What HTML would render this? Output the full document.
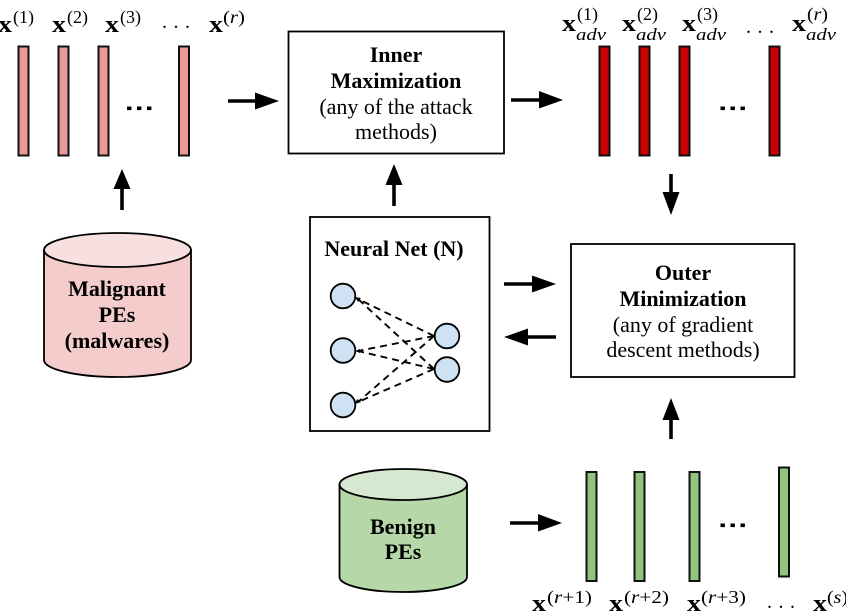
<!DOCTYPE html>
<html><head><meta charset="utf-8"><style>
html,body{margin:0;padding:0;background:#fff;width:846px;height:616px;overflow:hidden}
svg{display:block}
text{font-family:"Liberation Serif",serif;fill:#000}
.t{font-size:22px;text-anchor:middle}
.b{font-weight:bold}
.x{font-size:24px;font-weight:bold}
.s{font-size:18px}
.i{font-style:italic}
.a{font-size:17px;font-style:italic}
.d{font-size:20px;letter-spacing:6.5px}
.bar{stroke:#111;stroke-width:2}
.box{fill:#fff;stroke:#000;stroke-width:1.8}
.c{fill:#cfe2f3;stroke:#000;stroke-width:1.8}
.l{stroke:#000;stroke-width:1.9;stroke-dasharray:7 5;fill:none}
.ar{stroke:#000;stroke-width:3.6;fill:none}
</style></head><body>
<svg width="846" height="616" viewBox="0 0 846 616" xmlns="http://www.w3.org/2000/svg">
<g fill="#ea9999" class="bar">
<rect x="18.500" y="46.500" width="10" height="109"/><rect x="58.500" y="46.500" width="10" height="109"/><rect x="98.500" y="46.500" width="10" height="109"/><rect x="179" y="46.500" width="10" height="109"/>
</g>
<g fill="#cc0000" class="bar">
<rect x="599.500" y="46.500" width="10" height="109"/><rect x="639.500" y="46.500" width="10" height="109"/><rect x="679.500" y="46.500" width="10" height="109"/><rect x="769.500" y="46.500" width="10" height="109"/>
</g>
<g fill="#93c47d" class="bar">
<rect x="586.500" y="472" width="10" height="109"/><rect x="634.500" y="472" width="10" height="109"/><rect x="689.500" y="472" width="10" height="109"/><rect x="779" y="467.500" width="10" height="109"/>
</g>
<g fill="#000">
<rect x="127" y="106.500" width="4.400" height="3.600"/><rect x="137" y="106.500" width="4.400" height="3.600"/><rect x="147" y="106.500" width="4.400" height="3.600"/>
<rect x="720.500" y="106.500" width="4.400" height="3.600"/><rect x="730.500" y="106.500" width="4.400" height="3.600"/><rect x="740.500" y="106.500" width="4.400" height="3.600"/>
<rect x="720.500" y="523.500" width="4.400" height="3.600"/><rect x="730.500" y="523.500" width="4.400" height="3.600"/><rect x="740.500" y="523.500" width="4.400" height="3.600"/>
</g>
<!-- top-left labels -->
<text class="x" x="-2" y="32" textLength="14" lengthAdjust="spacingAndGlyphs">x</text><text class="s" x="13" y="23" textLength="21" lengthAdjust="spacingAndGlyphs">(1)</text>
<text class="x" x="52" y="32" textLength="14" lengthAdjust="spacingAndGlyphs">x</text><text class="s" x="67" y="23" textLength="21" lengthAdjust="spacingAndGlyphs">(2)</text>
<text class="x" x="105" y="32" textLength="14" lengthAdjust="spacingAndGlyphs">x</text><text class="s" x="120" y="23" textLength="21" lengthAdjust="spacingAndGlyphs">(3)</text>
<text class="d" x="162" y="28">...</text>
<text class="x" x="209" y="32" textLength="14" lengthAdjust="spacingAndGlyphs">x</text><text class="s" x="223" y="23" textLength="22" lengthAdjust="spacingAndGlyphs">(<tspan class="i">r</tspan>)</text>
<!-- top-right labels -->
<text class="x" x="562" y="31" textLength="14" lengthAdjust="spacingAndGlyphs">x</text><text class="s" x="577" y="20" textLength="21" lengthAdjust="spacingAndGlyphs">(1)</text><text class="a" x="576" y="40" textLength="30" lengthAdjust="spacingAndGlyphs">adv</text>
<text class="x" x="622" y="31" textLength="14" lengthAdjust="spacingAndGlyphs">x</text><text class="s" x="637" y="20" textLength="21" lengthAdjust="spacingAndGlyphs">(2)</text><text class="a" x="636" y="40" textLength="30" lengthAdjust="spacingAndGlyphs">adv</text>
<text class="x" x="682" y="31" textLength="14" lengthAdjust="spacingAndGlyphs">x</text><text class="s" x="697" y="20" textLength="21" lengthAdjust="spacingAndGlyphs">(3)</text><text class="a" x="696" y="40" textLength="30" lengthAdjust="spacingAndGlyphs">adv</text>
<text class="d" x="746" y="33">...</text>
<text class="x" x="792" y="31" textLength="14" lengthAdjust="spacingAndGlyphs">x</text><text class="s" x="807" y="20" textLength="21" lengthAdjust="spacingAndGlyphs">(<tspan class="i">r</tspan>)</text><text class="a" x="806" y="40" textLength="30" lengthAdjust="spacingAndGlyphs">adv</text>
<!-- bottom labels -->
<text class="x" x="532" y="611" textLength="14" lengthAdjust="spacingAndGlyphs">x</text><text class="s" x="547" y="603" textLength="45" lengthAdjust="spacingAndGlyphs">(<tspan class="i">r</tspan>+1)</text>
<text class="x" x="609" y="611" textLength="14" lengthAdjust="spacingAndGlyphs">x</text><text class="s" x="624" y="603" textLength="45" lengthAdjust="spacingAndGlyphs">(<tspan class="i">r</tspan>+2)</text>
<text class="x" x="687" y="611" textLength="14" lengthAdjust="spacingAndGlyphs">x</text><text class="s" x="701" y="603" textLength="45" lengthAdjust="spacingAndGlyphs">(<tspan class="i">r</tspan>+3)</text>
<text class="d" x="767" y="608">...</text>
<text class="x" x="813" y="611" textLength="14" lengthAdjust="spacingAndGlyphs">x</text><text class="s" x="827" y="603" textLength="21" lengthAdjust="spacingAndGlyphs">(<tspan class="i">s</tspan>)</text>
<!-- boxes -->
<rect class="box" x="288.500" y="31.500" width="215.500" height="122"/>
<text class="t b" x="396" y="62">Inner</text>
<text class="t b" x="396" y="88">Maximization</text>
<text class="t" x="396" y="114">(any of the attack</text>
<text class="t" x="396" y="139">methods)</text>
<rect class="box" x="310" y="217" width="179.500" height="214"/>
<text class="t b" x="394" y="256">Neural Net (N)</text>
<rect class="box" x="571" y="244" width="223.500" height="133"/>
<text class="t b" x="683" y="280">Outer</text>
<text class="t b" x="683" y="306">Minimization</text>
<text class="t" x="683" y="332">(any of gradient</text>
<text class="t" x="683" y="357">descent methods)</text>
<!-- neural net -->
<g class="l">
<path d="M434 336L358 299"/><path d="M434 369L358 299"/>
<path d="M434 336L358 351"/><path d="M434 369L358 351"/>
<path d="M434 336L358 402"/><path d="M434 369L358 402"/>
</g>
<g fill="#000">
<path d="M355 297L361 298L358 302Z"/><path d="M355 351L360 349L360 353Z"/><path d="M355 404L357 399L361 402Z"/>
</g>
<g class="c">
<circle cx="343" cy="296" r="12.300"/><circle cx="343" cy="350.500" r="12.300"/><circle cx="343" cy="405" r="12.300"/>
<circle cx="447" cy="336" r="12.300"/><circle cx="447" cy="369.500" r="12.300"/>
</g>
<!-- cylinders -->
<path d="M44 250V360C44 369.500 77 377 117.500 377S191 369.500 191 360V250Z" fill="#f4cccc" stroke="#000" stroke-width="1.800"/>
<ellipse cx="117.500" cy="250" rx="73.500" ry="17" fill="#f9e0e0" stroke="#000" stroke-width="1.800"/>
<text class="t b" x="117" y="296">Malignant</text>
<text class="t b" x="117" y="322">PEs</text>
<text class="t b" x="117" y="348">(malwares)</text>
<path d="M339.500 484.500V577C339.500 585.500 368 592 403 592S467 585.500 467 577V484.500Z" fill="#b6d7a8" stroke="#000" stroke-width="1.800"/>
<ellipse cx="403.250" cy="484.500" rx="63.750" ry="15.500" fill="#d6e8cf" stroke="#000" stroke-width="1.800"/>
<text class="t b" x="403" y="534">Benign</text>
<text class="t b" x="403" y="559">PEs</text>
<!-- arrows -->
<g class="ar">
<path d="M228 101H258"/><path d="M511 100H542"/><path d="M122 210V187"/><path d="M394 206V184"/>
<path d="M671 174V194"/><path d="M504 284H534"/><path d="M556 337H526"/><path d="M671 439V418"/><path d="M510 523H540"/>
</g>
<g fill="#000">
<path d="M255 92.500L279 101L255 109.500Z"/>
<path d="M539 91L563 100L539 108.500Z"/>
<path d="M113.500 189L122 169L130.500 189Z"/>
<path d="M385.500 185L394 164L402.500 185Z"/>
<path d="M662.500 192L671 215L679.500 192Z"/>
<path d="M532 275.500L556 284L532 292.500Z"/>
<path d="M528 328.500L504 337L528 345.500Z"/>
<path d="M662.500 420L671 398L679.500 420Z"/>
<path d="M538 514L562 523L538 531.500Z"/>
</g>
</svg>
</body></html>
